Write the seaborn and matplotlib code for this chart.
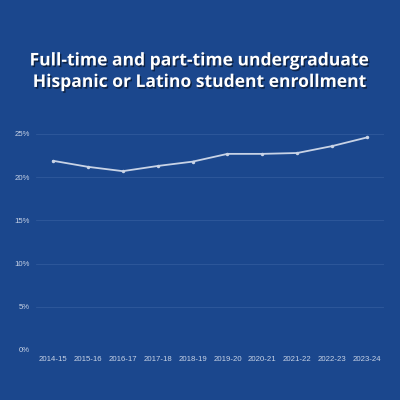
import numpy as np
import pandas as pd
import matplotlib
matplotlib.use('Agg')
import matplotlib.pyplot as plt
import matplotlib.patheffects as pe
from matplotlib.ticker import FuncFormatter
import seaborn as sns

years = ['2014-15', '2015-16', '2016-17', '2017-18', '2018-19',
         '2019-20', '2020-21', '2021-22', '2022-23', '2023-24']
share = [21.9, 21.2, 20.7, 21.3, 21.8, 22.7, 22.7, 22.8, 23.6, 24.6]

bg = '#1b478d'
fg = '#c8d3e6'

sns.set_style('white')
plt.rcParams['font.family'] = ['Liberation Sans', 'DejaVu Sans']

df = pd.DataFrame({'year': years, 'share': share})

fig = plt.figure(figsize=(4, 4), dpi=100, facecolor=bg)
ax = fig.add_axes([0.089, 0.125, 0.872, 0.54])
ax.set_facecolor(bg)

sns.lineplot(data=df, x='year', y='share', ax=ax, color=fg, linewidth=1.3,
             marker='o', markersize=2.5, markeredgewidth=0, sort=False)

ax.set_xlim(-0.5, len(years) - 0.5)
ax.set_ylim(0, 25)
ax.set_yticks([0, 5, 10, 15, 20, 25])
ax.yaxis.set_major_formatter(FuncFormatter(lambda v, p: f'{v:.0f}%'))
ax.grid(axis='y', color='#2c5699', linewidth=0.8)
ax.grid(axis='x', visible=False)
for s in ax.spines.values():
    s.set_visible(False)
ax.tick_params(axis='both', length=0, colors=fg, labelsize=5.6, pad=4)
ax.set_xlabel('')
ax.set_ylabel('')
for l in ax.get_lines():
    l.set_clip_on(False)

fig.text(0.5, 0.822, 'Full-time and part-time undergraduate\nHispanic or Latino student enrollment',
         ha='center', va='center', color='white', fontsize=12.6, fontweight='bold',
         family=['Open Sans', 'DejaVu Sans'], linespacing=1.25,
         path_effects=[pe.withSimplePatchShadow(offset=(1, -1.2), shadow_rgbFace='black', alpha=0.5)])

fig.savefig('out.png', dpi=100, facecolor=bg)
